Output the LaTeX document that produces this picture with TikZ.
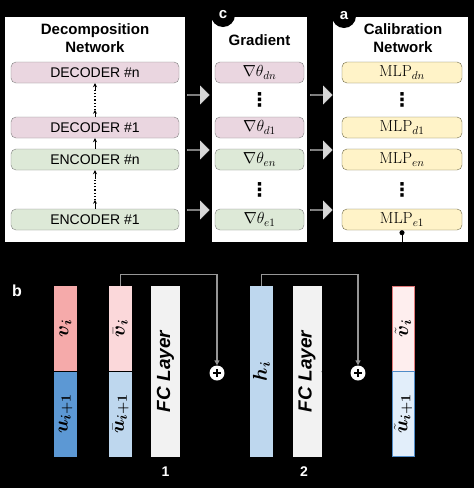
\RequirePackage{fix-cm}
\documentclass[tikz,border=0pt]{standalone}
\usepackage{amsmath,bm}
\usepackage{fontspec}
\setsansfont{Liberation Sans}
\newfontfamily\symfont{DejaVu Sans}
\usetikzlibrary{shapes.arrows, arrows.meta, positioning, calc}
\definecolor{decpink}{RGB}{234,214,224}
\definecolor{encgreen}{RGB}{221,233,215}
\definecolor{mlpyellow}{RGB}{255,243,200}
\definecolor{boxedge}{RGB}{128,128,128}
\definecolor{mlpedge}{RGB}{110,105,70}
\definecolor{vpink}{RGB}{245,170,170}
\definecolor{vlight}{RGB}{251,216,218}
\definecolor{vpale}{RGB}{254,238,238}
\definecolor{vedge}{RGB}{225,120,120}
\definecolor{ublue}{RGB}{92,152,212}
\definecolor{ulight}{RGB}{190,215,238}
\definecolor{upale}{RGB}{226,238,250}
\definecolor{uedge}{RGB}{80,140,200}
\definecolor{fcgray}{RGB}{242,242,242}
\definecolor{arrowgray}{RGB}{215,215,215}
\definecolor{skipgray}{RGB}{150,150,150}

\begin{document}
\begin{tikzpicture}[
    x=1pt, y=-1pt,
    panel/.style={fill=white, draw=none, minimum width=#1, minimum height=225pt, inner sep=0pt},
    title/.style={font=\sffamily\bfseries\fontsize{15}{18.5}\selectfont, align=center},
    tag/.style={circle, fill=black, minimum size=24pt, inner sep=0pt, text=white, font=\sffamily\bfseries\fontsize{15}{15}\selectfont},
    layerbox/.style={draw=boxedge, rounded corners=5pt, minimum height=21pt, inner sep=0pt, font=\sffamily\fontsize{14}{16}\selectfont},
    decbox/.style={layerbox, fill=decpink, minimum width=168pt},
    encbox/.style={layerbox, fill=encgreen, minimum width=168pt},
    graddec/.style={layerbox, fill=decpink, minimum width=89pt, font=\fontsize{16}{18}\selectfont},
    gradenc/.style={layerbox, fill=encgreen, minimum width=89pt, font=\fontsize{16}{18}\selectfont},
    mlpbox/.style={layerbox, draw=mlpedge, fill=mlpyellow, minimum width=120pt, font=\fontsize{16}{18}\selectfont},
    vdots/.style={font=\symfont\bfseries\fontsize{19}{20}\selectfont, inner sep=0pt},
    blockarrow/.style={single arrow, fill=arrowgray, draw=white!70!gray, minimum width=18pt, minimum height=22pt, single arrow head extend=3.5pt, inner sep=0pt},
    stub/.style={black, line width=0.9pt, -{Stealth[length=4pt, width=4pt]}},
    dotline/.style={black, line width=1.1pt, dotted},
    bar/.style={minimum width=23pt, minimum height=85pt, inner sep=0pt},
    fcbox/.style={fill=fcgray, minimum width=29pt, minimum height=171pt, inner sep=0pt},
    barmath/.style={rotate=90, font=\fontsize{20}{22}\selectfont},
    fclabel/.style={rotate=90, font=\sffamily\bfseries\itshape\fontsize{19}{22}\selectfont},
    plusnode/.style={circle, fill=white, minimum size=15pt, inner sep=0pt,
        path picture={\draw[black, line width=1.7pt]
            ([yshift=-3.5pt]path picture bounding box.north) -- ([yshift=3.5pt]path picture bounding box.south)
            ([xshift=3.5pt]path picture bounding box.west) -- ([xshift=-3.5pt]path picture bounding box.east);}},
    flow/.style={draw=black, line width=1pt, {Circle[length=5pt]}-{Stealth[length=5pt]}},
    skip/.style={draw=skipgray, line width=1.2pt, -{Triangle[length=5pt, width=5pt]}},
    steplabel/.style={text=white, font=\sffamily\bfseries\fontsize{14}{16}\selectfont}
]
    % background
    \fill[black] (0,0) rectangle (474,488);
    \useasboundingbox (0,0) rectangle (474,488);

    % Decomposition panel
    \node[panel=180pt] (decpanel) at (95,129.5) {};
    \node[title] (dectitle) at (95,38) {Decomposition\\Network};
    \node[decbox] (decn) at (95,72.5) {DECODER \#n};
    \node[decbox] (dec1) at (95,127.5) {DECODER \#1};
    \node[encbox] (encn) at (95,159.5) {ENCODER \#n};
    \node[encbox] (enc1) at (95,219.5) {ENCODER \#1};

    \draw[stub] (dec1.north) -- ++(0,-7) coordinate (d1up);
    \draw[dotline] (d1up) -- ([yshift=-7pt]decn.south);
    \draw[stub] ([yshift=-7pt]decn.south) -- (decn.south);
    \draw[stub] (encn.north) -- (dec1.south);
    \draw[stub] (enc1.north) -- ++(0,-9) coordinate (e1up);
    \draw[dotline] (e1up) -- ([yshift=-9pt]encn.south);
    \draw[stub] ([yshift=-9pt]encn.south) -- (encn.south);

    % Gradient panel
    \node[panel=95pt] (gradpanel) at (259.5,129.5) {};
    \node[title] (gradtitle) at (259.5,40) {Gradient};
    \node[graddec] (gdn) at (259.5,72.5) {$\nabla\theta_{dn}$};
    \node[vdots] (gdots1) at (259.5,100) {⋮};
    \node[graddec] (gd1) at (259.5,127.5) {$\nabla\theta_{d1}$};
    \node[gradenc] (gen) at (259.5,159.5) {$\nabla\theta_{en}$};
    \node[vdots] (gdots2) at (259.5,189.5) {⋮};
    \node[gradenc] (ge1) at (259.5,219.5) {$\nabla\theta_{e1}$};

    % Calibration panel
    \node[panel=135pt] (calpanel) at (400.5,129.5) {};
    \node[title] (caltitle) at (403,38) {Calibration\\Network};
    \node[mlpbox] (mdn) at (402,72.5) {$\mathrm{MLP}_{dn}$};
    \node[vdots] (mdots1) at (402,100) {⋮};
    \node[mlpbox] (md1) at (402,127.5) {$\mathrm{MLP}_{d1}$};
    \node[mlpbox] (men) at (402,159.5) {$\mathrm{MLP}_{en}$};
    \node[vdots] (mdots2) at (402,189.5) {⋮};
    \node[mlpbox] (me1) at (402,219.5) {$\mathrm{MLP}_{e1}$};
    \coordinate (calout) at (402,262);
    \draw[black, line width=1pt, {Circle[length=5pt]}-] (me1.south) -- (calout);

    % panel tags
    \node[tag] (tagc) at (223,15) {c};
    \node[tag] (taga) at (344,16) {a};

    % Block arrows between panels
    \foreach \yy in {95,150,210} {
        \node[blockarrow] at (198,\yy) {};
        \node[blockarrow] at (321,\yy) {};
    }

    % Panel b
    \node[text=white, font=\sffamily\bfseries\fontsize{16}{18}\selectfont] (tagb) at (17,291) {b};

    \node[bar, fill=vpink] (v1) at (65.5,328.5) {};
    \node[bar, fill=ublue] (u1) at (65.5,414) {};
    \node[barmath] at (v1) {$\bm{v_i}$};
    \node[barmath] at (u1) {$\bm{u_{i+1}}$};

    \node[bar, fill=vlight] (vb1) at (120.5,328.5) {};
    \node[bar, fill=ulight] (ub1) at (120.5,414) {};
    \node[barmath] at (vb1) {$\bm{\bar{v}_i}$};
    \node[barmath] at (ub1) {$\bm{\bar{u}_{i+1}}$};

    \node[fcbox] (fc1) at (165.5,371.5) {};
    \node[fclabel] at (fc1) {FC Layer};
    \node[steplabel] (step1) at (165.5,472) {1};
    \node[plusnode] (add1) at (217,373) {};

    \node[bar, fill=ulight, minimum height=171pt] (h1) at (261.5,371.5) {};
    \node[barmath] at (h1) {$\bm{h_i}$};

    \node[fcbox] (fc2) at (307,371.5) {};
    \node[fclabel] at (fc2) {FC Layer};
    \node[steplabel] (step2) at (304,472) {2};
    \node[plusnode] (add2) at (358,373) {};

    \node[bar, fill=vpale, draw=vedge, minimum width=22pt] (vt1) at (403,328.5) {};
    \node[bar, fill=upale, draw=uedge, minimum width=22pt] (ut1) at (403,414) {};
    \node[barmath] at (vt1) {$\bm{\tilde{v}_i}$};
    \node[barmath] at (ut1) {$\bm{\tilde{u}_{i+1}}$};

    % connections
    \draw[flow] (v1.south east) -- (vb1.south west);
    \draw[flow] (vb1.south east) -- (fc1.west);
    \draw[flow] (fc1.east) -- (add1.west);
    \draw[flow] (add1.east) -- (h1.west);
    \draw[flow] (h1.east) -- (fc2.west);
    \draw[flow] (fc2.east) -- (add2.west);
    \draw[flow] (add2.east) -- (vt1.south west);

    % skip connections
    \draw[skip] (vb1.north) -- ++(0,-11) -| (add1.north);
    \draw[skip] (h1.north) -- ++(0,-11) -| (add2.north);
\end{tikzpicture}
\end{document}
